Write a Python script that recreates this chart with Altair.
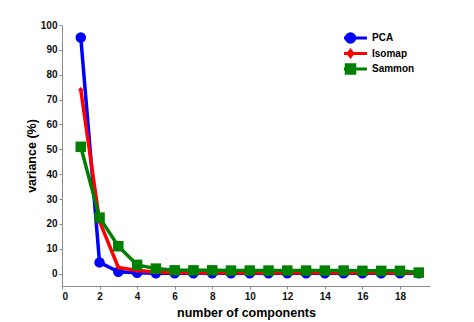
import altair as alt
import pandas as pd

components = list(range(1, 20))
pca = [95, 4.5, 0.7, 0.3, 0.1, 0.1, 0.1, 0.1, 0.1, 0.1, 0.1, 0.1, 0.1, 0.1, 0.1, 0.1, 0.1, 0.1, 0.1]
isomap = [74, 21, 2.5, 1.2, 0.6, 0.4, 0.3, 0.3, 0.3, 0.3, 0.3, 0.3, 0.3, 0.3, 0.3, 0.3, 0.3, 0.3, 0.2]
sammon = [51, 22.5, 11, 3.5, 2, 1.3, 1.3, 1.3, 1.2, 1.2, 1.2, 1.2, 1.2, 1.2, 1.2, 1.1, 1.1, 1.1, 0.4]

names = ["PCA", "Isomap", "Sammon"]
colors = ["#0000ff", "#ff0000", "#008000"]
marker_shapes = ["circle", "diamond", "square"]
marker_sizes = [110, 30, 110]
legend_paths = [
    "M-3.3,0H3.3M-0.85,0A0.85,0.85 0 1,0 0.85,0A0.85,0.85 0 1,0 -0.85,0Z",
    "M-3.3,0H3.3M0,-0.6L0.45,0L0,0.6L-0.45,0Z",
    "M-3.3,0H3.3M-0.85,-0.85H0.85V0.85H-0.85Z",
]

series = {"PCA": pca, "Isomap": isomap, "Sammon": sammon}
rows = []
for n in names:
    for c, v in zip(components, series[n]):
        rows.append({"component": c, "variance": v, "method": n})
df = pd.DataFrame(rows)

FONT = "Liberation Sans"

x_enc = alt.X(
    "component:Q",
    scale=alt.Scale(domain=[0, 19.6], nice=False, zero=False),
    axis=alt.Axis(values=list(range(0, 19, 2)), title="number of components", format="d"),
)
y_enc = alt.Y(
    "variance:Q",
    scale=alt.Scale(domain=[-5, 100], nice=False, zero=False),
    axis=alt.Axis(values=list(range(0, 101, 10)), title="variance (%)"),
)

base = alt.Chart(df)
layers = []
for n, col, shp, sz in zip(names, colors, marker_shapes, marker_sizes):
    sub = base.transform_filter(alt.datum.method == n)
    layers.append(sub.mark_line(color=col, strokeWidth=3.5).encode(x=x_enc, y=y_enc))
    layers.append(
        sub.mark_point(color=col, shape=shp, size=sz, filled=True, opacity=1).encode(x=x_enc, y=y_enc)
    )

leg = alt.Legend(
    title=None,
    orient="none",
    legendX=282,
    legendY=7,
    symbolSize=100,
    symbolStrokeWidth=3,
    labelOffset=15,
    labelFont=FONT,
    labelFontWeight="bold",
    labelFontSize=10,
    labelColor="#000000",
    clipHeight=12,
    rowPadding=3.5,
    padding=0,
)
legend_layer = base.transform_filter("false").mark_point(strokeWidth=3, opacity=1).encode(
    x=x_enc,
    y=y_enc,
    stroke=alt.Stroke("method:N", scale=alt.Scale(domain=names, range=colors), legend=leg),
    fill=alt.Fill("method:N", scale=alt.Scale(domain=names, range=colors), legend=leg),
    shape=alt.Shape("method:N", scale=alt.Scale(domain=names, range=legend_paths), legend=leg),
)

chart = (
    alt.layer(*layers, legend_layer)
    .properties(
        width=368,
        height=261,
        autosize=alt.AutoSizeParams(type="none"),
        padding={"left": 62, "top": 25, "right": 44, "bottom": 36},
        background="white",
    )
    .configure_view(stroke=None)
    .configure_axis(
        domainColor="#8c8c8c",
        tickColor="#8c8c8c",
        tickSize=3,
        grid=False,
        labelFont=FONT,
        labelFontWeight="bold",
        labelFontSize=10,
        labelColor="#111111",
        labelPadding=2,
        titleFont=FONT,
        titleFontWeight="bold",
        titleFontSize=12.5,
        titleColor="#000000",
    )
    .configure_axisX(titlePadding=5)
    .configure_axisY(titlePadding=2)
)

chart.save("out.html", embed_options={"renderer": "svg", "actions": False})
